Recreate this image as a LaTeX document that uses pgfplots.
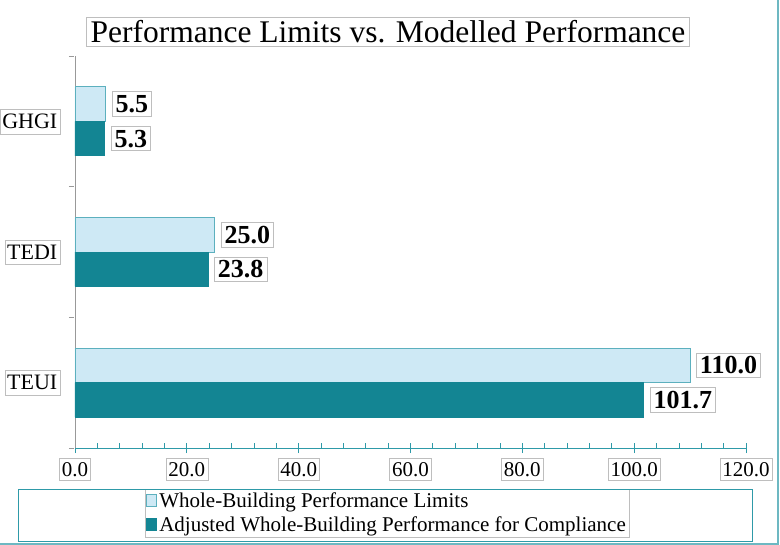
\documentclass[border=0pt]{standalone}
\usepackage{fontspec}
\setmainfont{Liberation Serif}
\usepackage{pgfplots}
\pgfplotsset{compat=1.18}

\definecolor{lightbar}{RGB}{206,233,245}
\definecolor{lightedge}{RGB}{92,176,190}
\definecolor{darkbar}{RGB}{19,133,147}
\definecolor{axteal}{RGB}{46,154,168}
\definecolor{boxgray}{RGB}{190,190,190}

\begin{document}
\begin{tikzpicture}
  \begin{axis}[
      at={(0,0)}, anchor=south west,
      scale only axis,
      width=671bp, height=392bp,
      xbar,
      xmin=0, xmax=120,
      ymin=-0.5, ymax=2.5,
      clip=false,
      axis x line=bottom, axis y line=left,
      x axis line style={-, axteal, line width=0.8bp},
      y axis line style={-, gray!80, line width=0.8bp},
      xtick={0,20,...,120},
      minor x tick num=4,
      tick align=inside,
      major tick length=10bp,
      minor tick length=5bp,
      major x tick style={axteal, line width=0.8bp, yshift=-5bp},
      minor x tick style={axteal, line width=0.8bp},
      ytick={0,1,2},
      yticklabels={TEUI,TEDI,GHGI},
      minor ytick={-0.5,0.5,1.5,2.5},
      major y tick style={draw=none},
      minor y tick style={gray!80, line width=0.8bp, xshift=-6bp},
      xticklabel={\pgfmathprintnumber[fixed,fixed zerofill,precision=1,assume math mode=true]{\tick}},
      xticklabel style={draw=boxgray, fill=white, inner xsep=2.5bp, inner ysep=4bp,
        font=\fontsize{21bp}{23bp}\selectfont, yshift=-10bp},
      yticklabel style={draw=boxgray, fill=white, inner xsep=2.5bp, inner ysep=5bp,
        font=\fontsize{22bp}{24bp}\selectfont, xshift=-15bp},
      bar width=0.264,
      nodes near coords={\pgfmathprintnumber[fixed,fixed zerofill,precision=1,assume math mode=true]{\pgfplotspointmeta}},
      nodes near coords style={anchor=west, xshift=6bp, draw=boxgray, fill=white, inner sep=3.5bp,
        font=\bfseries\fontsize{26bp}{28bp}\selectfont},
      legend cell align=left,
      legend style={at={(0.104,-0.105)}, anchor=north west, draw=boxgray,
        font=\fontsize{21bp}{24bp}\selectfont, inner sep=1.5bp, row sep=4bp},
      legend image code/.code={\draw[#1, line width=0.8bp] (0bp,-5bp) rectangle (10bp,7bp);},
    ]
    \addplot[fill=lightbar, draw=lightedge, line width=0.8bp, bar shift=0.132]
      coordinates {(110.0,0) (25.0,1) (5.5,2)};
    \addplot[fill=darkbar, draw=darkbar, line width=0.8bp, bar shift=-0.132]
      coordinates {(101.7,0) (23.8,1) (5.3,2)};
    \legend{Whole-Building Performance Limits, Adjusted Whole-Building Performance for Compliance}
  \end{axis}
  % title
  \node[draw=boxgray, fill=white, inner xsep=4bp, inner ysep=3bp, font=\fontsize{31.5bp}{33bp}\selectfont]
    at (313bp,416.5bp) {Performance Limits vs. Modelled Performance};
  % legend frame and chart border
  \draw[axteal, line width=0.9bp] (-57bp,-93bp) rectangle (677bp,-41bp);
  \draw[axteal!70, line width=1.2bp] (703bp,448bp) -- (703bp,-96bp) -- (-75bp,-96bp);
  \pgfresetboundingbox
  \path (-75bp,-97bp) rectangle (705bp,448bp);
\end{tikzpicture}
\end{document}
